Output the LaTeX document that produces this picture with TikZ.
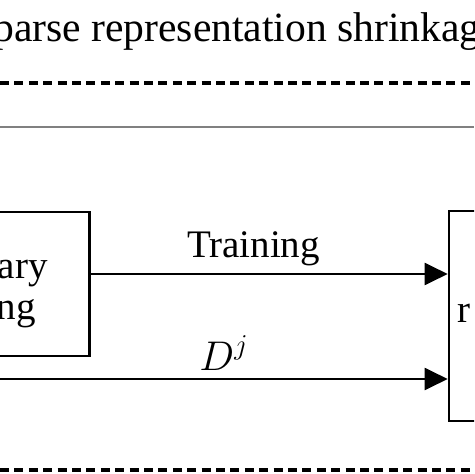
\documentclass[tikz,border=0pt]{standalone}
\usepackage{fontspec}
\setmainfont{Liberation Serif}
\usetikzlibrary{arrows.meta}

\begin{document}
\begin{tikzpicture}[x=0.5pt,y=-0.5pt,
                    box/.style={draw,line width=1.2pt,inner sep=0pt},
                    flow/.style={line width=1pt,-{Triangle[length=11.5pt,width=11pt]}},
                    lbl/.style={font=\fontsize{19.5}{22}\selectfont,inner sep=0pt},
                    sepline/.style={line width=2pt,dash pattern=on 4.5pt off 2.7pt}]

                    \useasboundingbox (0,0) rectangle (474,474);
                    \clip (0,0) rectangle (474,474);

                    % separators
                    \node[lbl,font=\fontsize{20.8}{23}\selectfont,anchor=base] (title) at (237,42) {parse representation shrinkag};
                    \draw[sepline] (0,83) -- (474,83);
                    \draw[gray,line width=0.8pt] (0,127) -- (474,127);
                    \draw[sepline] (0,470) -- (474,470);

                    % blocks
                    \node[box,anchor=east,minimum width=60pt,minimum height=72pt] (dict) at (90.7,284) {};
                    \node[box,anchor=west,minimum width=40pt,minimum height=105pt] (recon) at (447.7,316) {};
                    \node[lbl,anchor=base east] (dictA) at (48,279) {ary};
                    \node[lbl,anchor=base east] (dictB) at (36,320) {ng};
                    \node[lbl,anchor=base west] (reconA) at (457,322.7) {r};

                    % arrows
                    \coordinate (din) at (-10,379);
                    \draw[flow] ([yshift=5pt]dict.east) -- ([yshift=5pt]dict.east -| recon.west);
                    \draw[flow] (din) -- (din -| recon.west);

                    \node[lbl,anchor=base] (train) at (253.5,258) {Training};
                    \node[lbl,font=\fontsize{21}{23}\selectfont,anchor=base] (dj) at (224,370) {$D^{j}$};

                \end{tikzpicture}
\end{document}
